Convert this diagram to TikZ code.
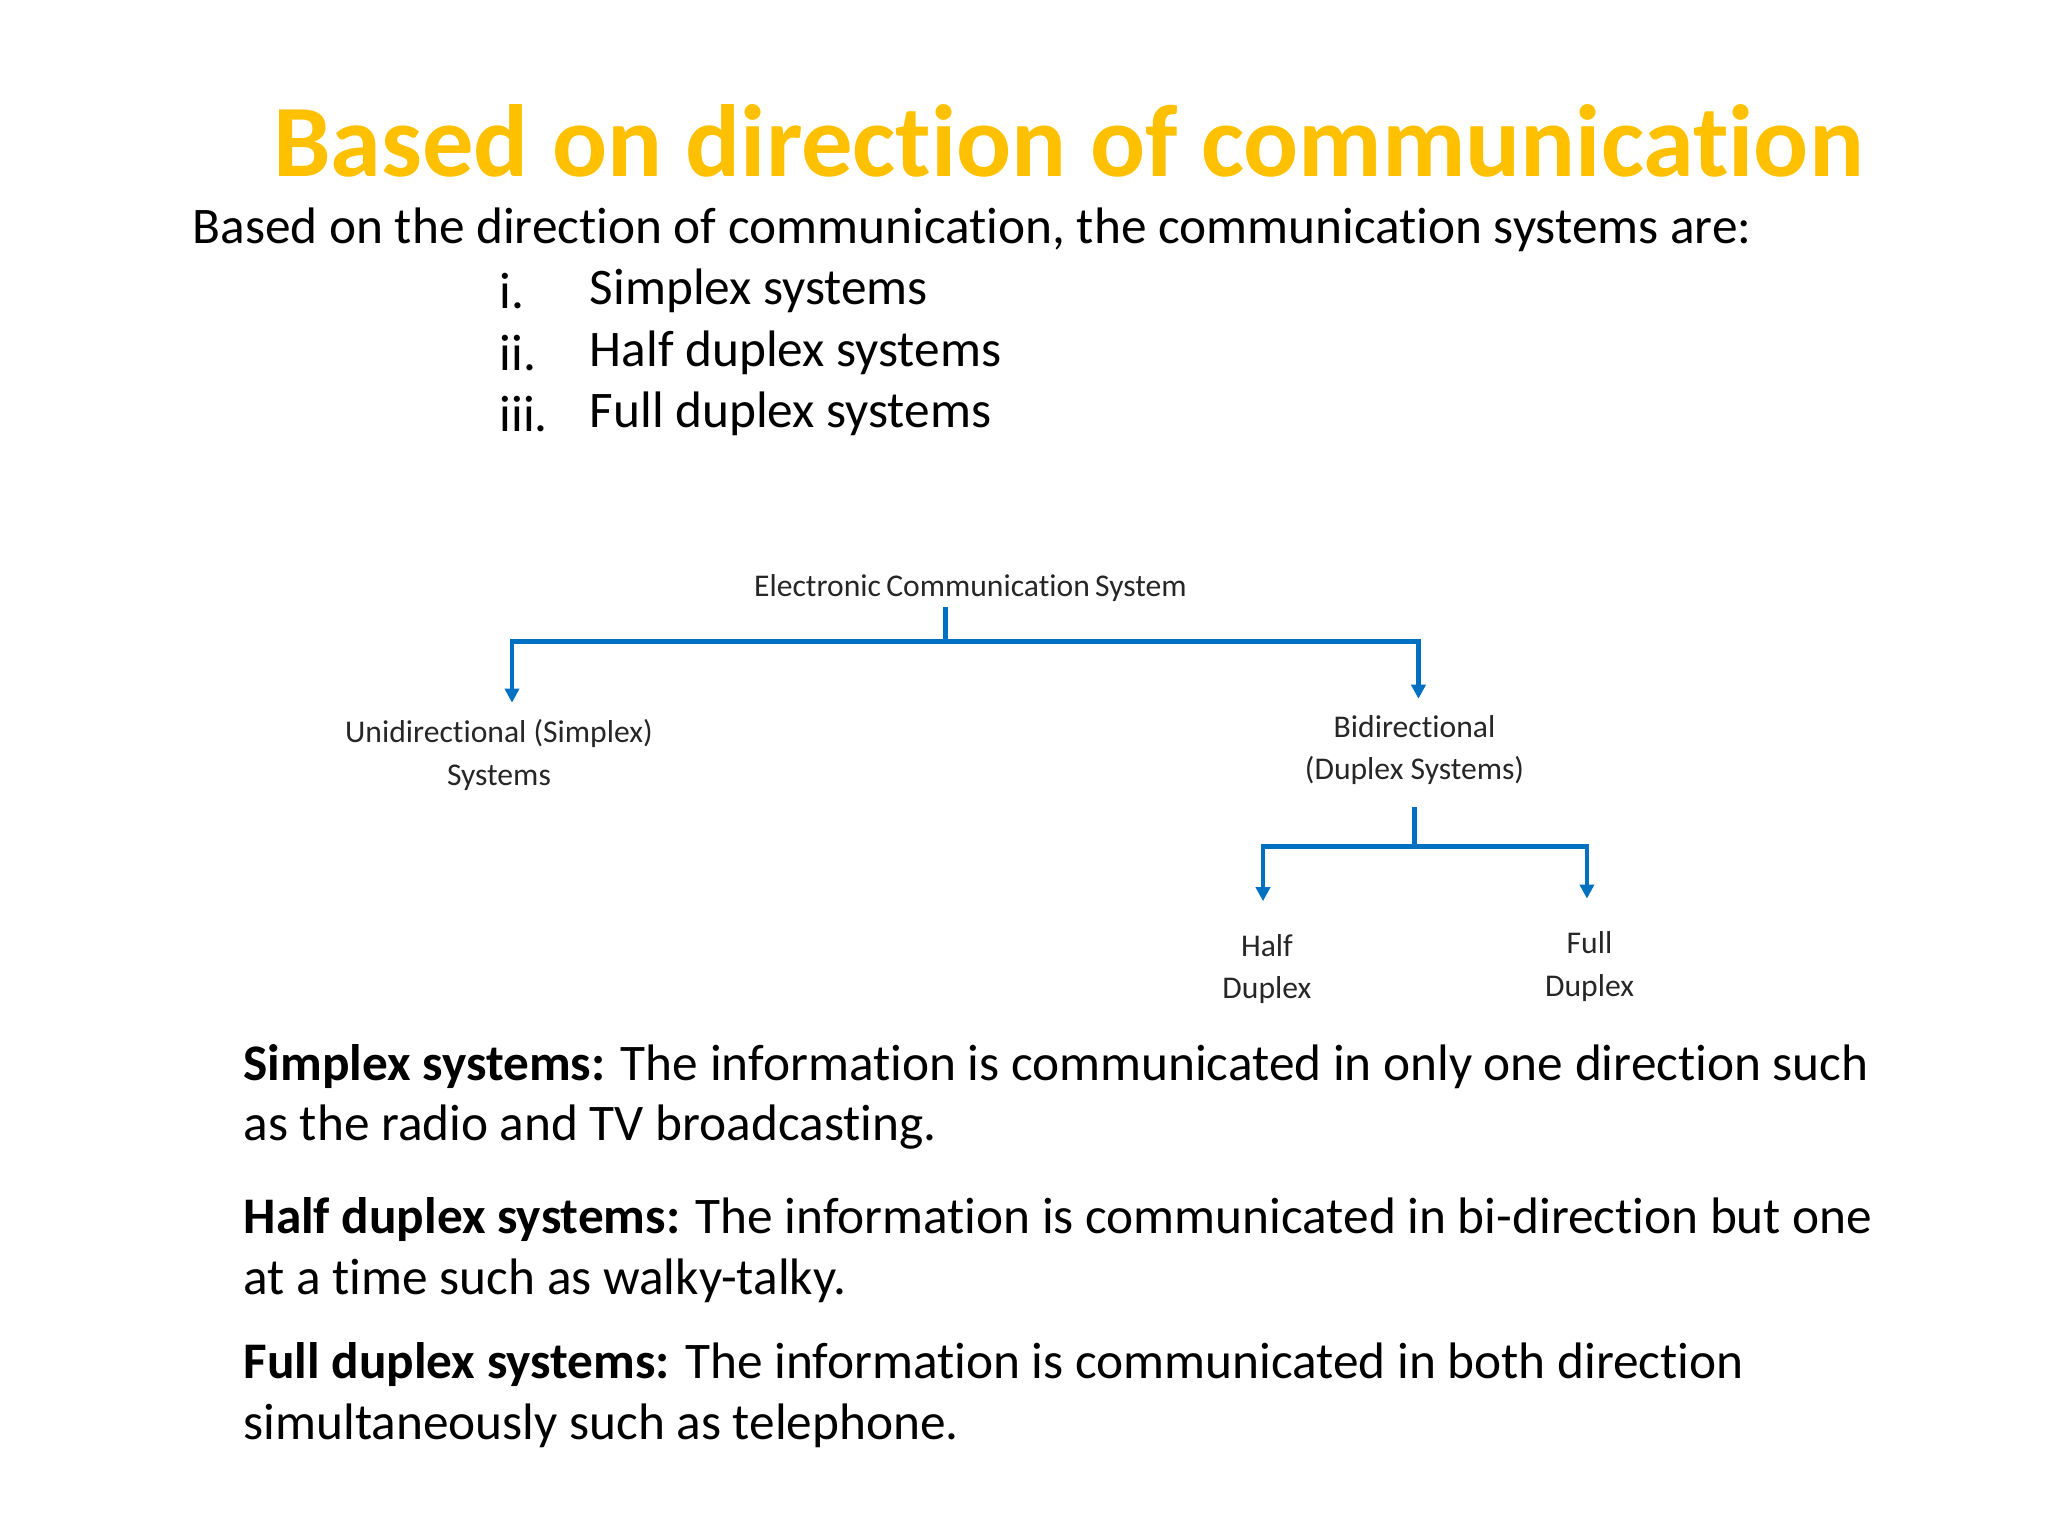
\documentclass[tikz,border=0pt]{standalone}
\usepackage{fontspec}
\setmainfont{Carlito}[Ligatures={NoCommon}]
\usetikzlibrary{arrows.meta}
\definecolor{ttl}{RGB}{255,192,0}
\definecolor{lnk}{RGB}{0,112,192}
\begin{document}
\begin{tikzpicture}[x=0.01306cm,y=-0.01306cm,
  body/.style={anchor=west,inner sep=0pt,font=\fontsize{14.6}{17}\selectfont},
  small/.style={inner sep=0pt,align=center,font=\fontsize{9}{12}\selectfont,text=black!85},
  conn/.style={lnk,line width=1.3pt},
  arr/.style={conn,-{Triangle[length=4pt,width=4pt]}}]
\useasboundingbox (0,0) rectangle (1568,1176);
\node[inner sep=0pt,text=ttl,font=\fontsize{29.2}{33}\selectfont\bfseries] (title) at (818,108) {Based on direction of communication};
\node[body] (intro) at (147,176) {Based on the direction of communication, the communication systems are:};
\node[body] (n1) at (382,223) {i.}; \node[body] (t1) at (451,223) {Simplex systems};
\node[body] (n2) at (382,270) {ii.}; \node[body] (t2) at (451,270) {Half duplex systems};
\node[body] (n3) at (382,317) {iii.}; \node[body] (t3) at (451,317) {Full duplex systems};
% diagram
\node[small] (ecs) at (743,450) {Electronic\,Communication\,System};
\node[small] (uni) at (382,578) {Unidirectional (Simplex)\\Systems};
\node[small] (bi) at (1083,574) {Bidirectional\\(Duplex Systems)};
\node[small] (half) at (970,742) {Half\\Duplex};
\node[small] (full) at (1217,740) {Full\\Duplex};
\coordinate (a0) at (724,465); \coordinate (a1) at (724,491);
\coordinate (aL) at (392,491); \coordinate (aR) at (1086,491);
\coordinate (aLe) at (392,538); \coordinate (aRe) at (1086,535);
\draw[conn] (a0) -- (a1);
\draw[arr] (a1) -- (aL) -- (aLe);
\draw[arr] (a1) -- (aR) -- (aRe);
\coordinate (b0) at (1083,618); \coordinate (b1) at (1083,648);
\coordinate (bL) at (967,648); \coordinate (bR) at (1215,648);
\coordinate (bLe) at (967,690); \coordinate (bRe) at (1215,688);
\draw[conn] (b0) -- (b1);
\draw[arr] (b1) -- (bL) -- (bLe);
\draw[arr] (b1) -- (bR) -- (bRe);
% paragraphs
\node[body] (p1a) at (186,817) {\textbf{Simplex systems:} The information is communicated in only one direction such};
\node[body] (p1b) at (186,863) {as the radio and TV broadcasting.};
\node[body] (p2a) at (186,934) {\textbf{Half duplex systems:} The information is communicated in bi-direction but one};
\node[body] (p2b) at (186,981) {at a time such as walky-talky.};
\node[body] (p3a) at (186,1045) {\textbf{Full duplex systems:} The information is communicated in both direction};
\node[body] (p3b) at (186,1092) {simultaneously such as telephone.};
\end{tikzpicture}
\end{document}
